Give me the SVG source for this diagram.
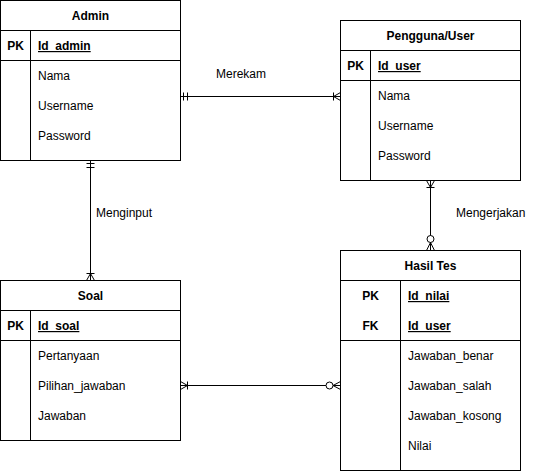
<svg xmlns="http://www.w3.org/2000/svg" width="541" height="471" viewBox="0 0 541 471">
<style>
.box{fill:#fff;stroke:#000;stroke-width:1}
.ln{fill:none;stroke:#000;stroke-width:1}
text{font-family:"Liberation Sans",Arial,sans-serif;font-size:12px;fill:#000}
.h{font-weight:bold;text-anchor:middle}
.k{font-weight:bold;text-anchor:middle}
.kn{font-weight:bold;text-decoration:underline}
.lbl{fill:#000}
</style>
<rect width="541" height="471" fill="#fff"/>
<g id="admin">
<rect class="box" x="0.5" y="0.5" width="180" height="160"/>
<path class="ln" d="M0.5 30.5H180.5M0.5 60.5H180.5M30.5 30.5V160.5"/>
<text class="h" x="90.5" y="20">Admin</text>
<text class="k" x="15.5" y="50">PK</text>
<text class="kn" x="38" y="50">Id_admin</text>
<text x="38" y="80">Nama</text>
<text x="38" y="110">Username</text>
<text x="38" y="140">Password</text>
</g>
<g id="user">
<rect class="box" x="340.5" y="20.5" width="180" height="160"/>
<path class="ln" d="M340.5 50.5H520.5M340.5 80.5H520.5M370.5 50.5V180.5"/>
<text class="h" x="430.5" y="40">Pengguna/User</text>
<text class="k" x="355.5" y="70">PK</text>
<text class="kn" x="378" y="70">Id_user</text>
<text x="378" y="100">Nama</text>
<text x="378" y="130">Username</text>
<text x="378" y="160">Password</text>
</g>
<g id="soal">
<rect class="box" x="0.5" y="280.5" width="180" height="160"/>
<path class="ln" d="M0.5 310.5H180.5M0.5 340.5H180.5M30.5 310.5V440.5"/>
<text class="h" x="90.5" y="300">Soal</text>
<text class="k" x="15.5" y="330">PK</text>
<text class="kn" x="38" y="330">Id_soal</text>
<text x="38" y="360">Pertanyaan</text>
<text x="38" y="390">Pilihan_jawaban</text>
<text x="38" y="420">Jawaban</text>
</g>
<g id="hasil">
<rect class="box" x="340.5" y="250.5" width="180" height="220"/>
<path class="ln" d="M340.5 280.5H520.5M340.5 340.5H520.5M400.5 280.5V470.5"/>
<text class="h" x="430.5" y="270">Hasil Tes</text>
<text class="k" x="370.5" y="300">PK</text>
<text class="kn" x="408" y="300">Id_nilai</text>
<text class="k" x="370.5" y="330">FK</text>
<text class="kn" x="408" y="330">Id_user</text>
<text x="408" y="360">Jawaban_benar</text>
<text x="408" y="390">Jawaban_salah</text>
<text x="408" y="420">Jawaban_kosong</text>
<text x="408" y="450">Nilai</text>
</g>
<g id="connectors">
<!-- Admin - User -->
<path class="ln" d="M180.5 96.5H340.5"/>
<path class="ln" d="M183.5 92.5V100.5M187.5 92.5V100.5"/>
<path class="ln" d="M333.5 92.5V100.5M340.5 92.5L333.5 96.5L340.5 100.5"/>
<text class="lbl" x="241" y="78" text-anchor="middle">Merekam</text>
<!-- Admin - Soal -->
<path class="ln" d="M90.5 160.5V280.5"/>
<path class="ln" d="M86.5 163.5H94.5M86.5 167.5H94.5"/>
<path class="ln" d="M86.5 273.5H94.5M86.5 280.5L90.5 273.5L94.5 280.5"/>
<text class="lbl" x="96" y="217">Menginput</text>
<!-- User - Hasil -->
<path class="ln" d="M430.5 180.5V250.5"/>
<path class="ln" d="M426.5 180.5L430.5 187.5L434.5 180.5M426.5 187.5H434.5"/>
<circle cx="430.5" cy="239" r="3.5" fill="#fff" stroke="#000"/>
<path class="ln" d="M426.5 250.5L430.5 242.5L434.5 250.5"/>
<text class="lbl" x="456" y="217">Mengerjakan</text>
<!-- Soal - Hasil -->
<path class="ln" d="M180.5 385.5H340.5"/>
<path class="ln" d="M180.5 381.5L187.5 385.5L180.5 389.5M187.5 381.5V389.5"/>
<circle cx="329.5" cy="385.5" r="3.5" fill="#fff" stroke="#000"/>
<path class="ln" d="M340.5 381.5L333 385.5L340.5 389.5"/>
</g>
</svg>
